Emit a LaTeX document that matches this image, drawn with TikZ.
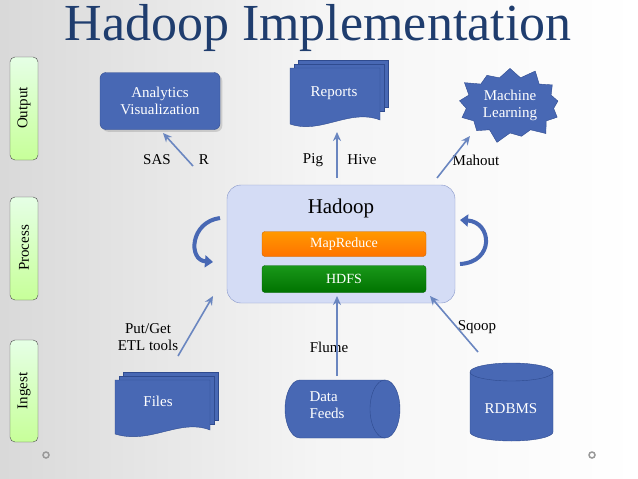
\documentclass[tikz,border=0pt]{standalone}
\usepackage{fontspec}
\setmainfont{Liberation Serif}
\usetikzlibrary{shapes.geometric,shapes.symbols,arrows.meta,shadows}
\definecolor{bblue}{HTML}{4868B4}
\definecolor{bdark}{HTML}{2F4B8F}
\definecolor{titlec}{HTML}{1F3D6E}
\definecolor{arrc}{HTML}{6A86C0}
\definecolor{hfill}{HTML}{D4DCF5}
\definecolor{hline}{HTML}{8595C8}
\tikzset{
 bluebox/.style={draw=bdark,fill=bblue,text=white,rounded corners=6pt,align=center,font=\fontsize{15}{17}\selectfont,drop shadow={opacity=0.3}},
 tab/.style={draw=black!70,rounded corners=5pt,top color=green!10!white,bottom color=green!40!lime!40!white,minimum width=28pt,inner sep=0pt},
 tabtxt/.style={rotate=90,font=\fontsize{15}{17}\selectfont},
 lbl/.style={font=\fontsize{15}{17}\selectfont,align=center},
 conn/.style={draw=arrc,line width=1.6pt,-{Stealth[length=9pt,width=8pt]}},
 curv/.style={draw=bblue,line width=4pt,-{Triangle[length=8pt,width=12pt]}},
 docf/.style={draw=bdark,fill=bblue}
}
\begin{document}
\begin{tikzpicture}[x=1pt,y=-1pt]
\shade[left color=black!15,right color=white,middle color=white!96!black] (0,0) rectangle (638,479);
\useasboundingbox (0,0) rectangle (638,479);
\node[font=\fontsize{52}{56}\selectfont,text=titlec] (title) at (318,28) {Hadoop Implementation};
% tabs
\draw[tab] (10,57) rectangle (38,160); \node[tabtxt] (tout) at (24,108) {Output};
\draw[tab] (10,197) rectangle (38,300); \node[tabtxt] (tproc) at (24,248) {Process};
\draw[tab] (10,340) rectangle (38,442); \node[tabtxt] (ting) at (24,391) {Ingest};
\draw[black!40,line width=1.5pt] (46,455) circle (3); \draw[black!40,line width=1.5pt] (592,455) circle (3);
% output
\node[bluebox,minimum width=120pt,minimum height=57pt] (ana) at (160,101) {Analytics\\Visualization};
\foreach \d in {8,4}{\draw[docf] (290+\d,68-\d) rectangle (380+\d,115-\d);}
\draw[docf] (290,68) -- (380,68) -- (380,120) .. controls (350,108) and (320,135) .. (290,124) -- cycle;
\node[lbl,text=white] (rep) at (334,93) {Reports};
\node[starburst,starburst points=13,starburst point height=12pt,docf,minimum width=112pt,minimum height=80pt,text=white,align=center,font=\fontsize{15}{17}\selectfont] (ml) at (510,105) {Machine\\Learning};
\node[lbl] (sas) at (157,160) {SAS};
\node[lbl] (r) at (204,160) {R};
\node[lbl] (pig) at (313,160) {Pig};
\node[lbl] (hive) at (362,160) {Hive};
\node[lbl] (mah) at (476,160) {Mahout};
\coordinate (a1) at (193,166); \coordinate (a1e) at (163,133);
\coordinate (a2) at (337,178); \coordinate (a2e) at (337,132);
\coordinate (a3) at (437,178); \coordinate (a3e) at (470,136);
\draw[conn] (a1) -- (a1e); \draw[conn] (a2) -- (a2e); \draw[conn] (a3) -- (a3e);
% hadoop
\node[draw=hline,fill=hfill,rounded corners=14pt,minimum width=228pt,minimum height=118pt] (had) at (341,244) {};
\node[font=\fontsize{21}{23}\selectfont] (hadt) at (341,208) {Hadoop};
\node[draw=orange!80!black,top color=orange!80!yellow,bottom color=orange!90!red,text=white,rounded corners=3pt,minimum width=164pt,minimum height=25pt,font=\fontsize{14}{16}\selectfont] (mr) at (344,244) {MapReduce};
\node[draw=green!40!black,top color=green!55!black!90,bottom color=green!45!black,text=white,rounded corners=3pt,minimum width=164pt,minimum height=27pt,font=\fontsize{14}{16}\selectfont] (hdfs) at (344,279) {HDFS};
\coordinate (lc1) at (220,218); \coordinate (lc2) at (213,262);
\draw[curv] (lc1) .. controls (190,222) and (188,260) .. (lc2);
\coordinate (rc1) at (460,220); \coordinate (rc2) at (460,264);
\draw[curv] (rc2) .. controls (495,262) and (492,222) .. (rc1);
% ingest
\node[lbl] (pg) at (148,337) {Put/Get\\ETL tools};
\node[lbl] (flume) at (329,347) {Flume};
\node[lbl] (sqoop) at (477,327) {Sqoop};
\coordinate (b1) at (178,356); \coordinate (b1e) at (213,296);
\coordinate (b2) at (337,376); \coordinate (b2e) at (337,296);
\coordinate (b3) at (478,352); \coordinate (b3e) at (430,296);
\draw[conn] (b1) -- (b1e); \draw[conn] (b2) -- (b2e); \draw[conn] (b3) -- (b3e);
\foreach \d in {8,4}{\draw[docf] (115+\d,380-\d) rectangle (210+\d,428-\d);}
\draw[docf] (115,380) -- (210,380) -- (210,430) .. controls (180,418) and (150,445) .. (115,434) -- cycle;
\node[lbl,text=white] (files) at (158,401) {Files};
\draw[docf] (300,380) -- (385,380) arc[start angle=-90,end angle=90,x radius=15,y radius=29] -- (300,438) arc[start angle=90,end angle=270,x radius=15,y radius=29] -- cycle;
\draw[bdark] (385,380) arc[start angle=-90,end angle=-270,x radius=15,y radius=29];
\node[lbl,text=white,align=left] (df) at (327,405) {Data\\Feeds};
\draw[docf] (470,372) -- (470,432) arc[start angle=180,end angle=0,x radius=41.5,y radius=9] -- (553,372) arc[start angle=0,end angle=-180,x radius=41.5,y radius=9];
\draw[bdark] (470,372) arc[start angle=180,end angle=0,x radius=41.5,y radius=9];
\node[lbl,text=white] (rdb) at (511,409) {RDBMS};
\end{tikzpicture}
\end{document}
